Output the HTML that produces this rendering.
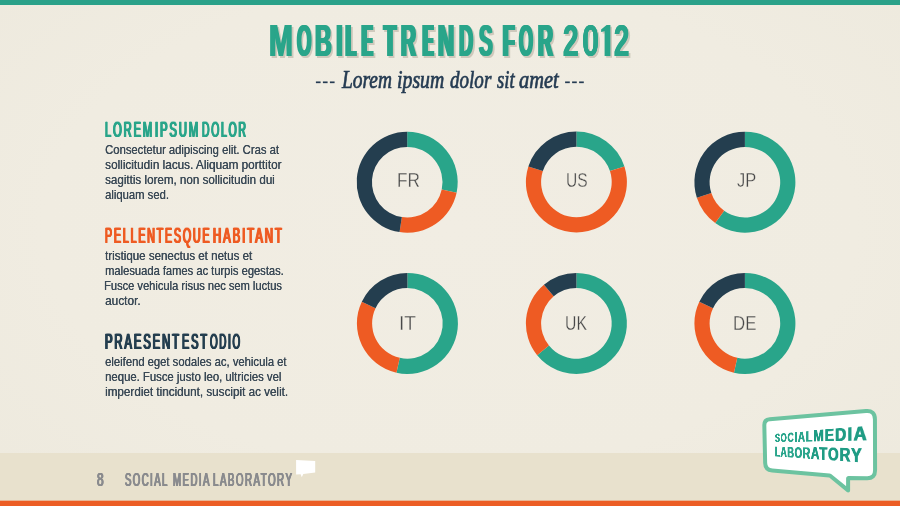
<!DOCTYPE html>
<html lang="en"><head><meta charset="utf-8"><title>Mobile Trends for 2012</title>
<style>
html,body{margin:0;padding:0}
body{width:900px;height:506px;overflow:hidden;position:relative;background:#efebdf radial-gradient(ellipse 75% 80% at 50% 45%,#f1ede3 0%,#f0ece1 60%,#ede9dd 100%);font-family:"Liberation Sans",sans-serif}
.topbar{position:absolute;left:0;top:0;width:900px;height:5px;background:#2aa189}
.band{position:absolute;left:0;top:453px;width:900px;height:48px;background:#e8e1cd}
.botbar{position:absolute;left:0;top:500px;width:900px;height:6px;background:#ec5d24;border-top:1px solid #e9b594;box-sizing:border-box}
.txt{position:absolute;left:0;top:0;width:900px;height:506px;will-change:opacity}
.t{position:absolute;white-space:nowrap;line-height:1;transform-origin:0 0;display:block;margin:0;font-weight:normal}
.title{font-weight:bold;color:#29a58a}
.sub{font-family:"Liberation Serif",serif;font-style:italic;color:#253b52;-webkit-text-stroke:0.7px #253b52}
.h1{color:#29a58a;text-shadow:1.2px 0 0 currentColor,-1.2px 0 0 currentColor,0.5px 0 0 currentColor,-0.5px 0 0 currentColor,0 -1px 0 rgba(41,165,138,0.2),1.2px -1px 0 rgba(41,165,138,0.2),-1.2px -1px 0 rgba(41,165,138,0.2)}
.h2{color:#ee5b23;text-shadow:1.2px 0 0 currentColor,-1.2px 0 0 currentColor,0.5px 0 0 currentColor,-0.5px 0 0 currentColor,0 -1px 0 rgba(238,91,35,0.2),1.2px -1px 0 rgba(238,91,35,0.2),-1.2px -1px 0 rgba(238,91,35,0.2)}
.h3{color:#243e4f;text-shadow:1.2px 0 0 currentColor,-1.2px 0 0 currentColor,0.5px 0 0 currentColor,-0.5px 0 0 currentColor,0 -1px 0 rgba(36,62,79,0.2),1.2px -1px 0 rgba(36,62,79,0.2),-1.2px -1px 0 rgba(36,62,79,0.2)}
.b{color:#3a4956;text-shadow:0.3px 0 0 currentColor}
.f{color:#8a8b8e;text-shadow:0.9px 0 0 currentColor,-0.9px 0 0 currentColor,0.4px 0 0 currentColor,-0.4px 0 0 currentColor}
svg{position:absolute;left:0;top:0}
.lg{position:absolute;left:0;top:0;white-space:nowrap;line-height:1;transform-origin:0 0;font-weight:bold;font-size:29.07px;color:#1f9c84;letter-spacing:1.5px}
.lg .s1{font-size:27.3px;color:#2aa58c;text-shadow:0.9px 0 0 currentColor,-0.9px 0 0 currentColor}
.lg .s2{text-shadow:0.75px 0 0 currentColor,-0.75px 0 0 currentColor;letter-spacing:2.2px}
#lg0 .s1{letter-spacing:2.7px}
.lbl{color:#484848;-webkit-text-stroke:0.3px #f1eee4;paint-order:fill stroke}
.dash{stroke:#253b52;stroke-width:1.7}
</style></head>
<body>
<div class="topbar"></div><div class="band"></div><div class="botbar"></div>
<main class="txt">
<div class="t title" style="left:269.02px;top:18.00px;font-size:45.1px;transform:scaleX(0.6346);text-shadow:1.28px 0 0 #29a58a,-1.28px 0 0 #29a58a,2.52px 1.6px 0 #cfc9bc,3.80px 1.6px 0 #cfc9bc,1.24px 1.6px 0 #cfc9bc">M</div>
<div class="t title" style="left:296.53px;top:18.00px;font-size:45.1px;transform:scaleX(0.4100);text-shadow:2.45px 0 0 #29a58a,-2.45px 0 0 #29a58a,3.90px 1.6px 0 #cfc9bc,6.36px 1.6px 0 #cfc9bc,1.45px 1.6px 0 #cfc9bc">O</div>
<div class="t title" style="left:315.16px;top:18.00px;font-size:45.1px;transform:scaleX(0.5109);text-shadow:1.96px 0 0 #29a58a,-1.96px 0 0 #29a58a,3.13px 1.6px 0 #cfc9bc,5.09px 1.6px 0 #cfc9bc,1.17px 1.6px 0 #cfc9bc">B</div>
<div class="t title" style="left:333.66px;top:18.00px;font-size:45.1px;transform:scaleX(0.8656);text-shadow:1.85px 1.6px 0 #cfc9bc">I</div>
<div class="t title" style="left:345.94px;top:18.00px;font-size:45.1px;transform:scaleX(0.3489);text-shadow:2.61px 0 0 #29a58a,-2.61px 0 0 #29a58a,5.22px 0 0 #29a58a,-5.22px 0 0 #29a58a,4.59px 1.6px 0 #cfc9bc,7.20px 1.6px 0 #cfc9bc,9.81px 1.6px 0 #cfc9bc,1.98px 1.6px 0 #cfc9bc,-0.63px 1.6px 0 #cfc9bc">L</div>
<div class="t title" style="left:362.05px;top:18.00px;font-size:45.1px;transform:scaleX(0.3469);text-shadow:2.63px 0 0 #29a58a,-2.63px 0 0 #29a58a,5.27px 0 0 #29a58a,-5.27px 0 0 #29a58a,4.61px 1.6px 0 #cfc9bc,7.25px 1.6px 0 #cfc9bc,9.88px 1.6px 0 #cfc9bc,1.98px 1.6px 0 #cfc9bc,-0.66px 1.6px 0 #cfc9bc">E</div>
<div class="t title" style="left:384.32px;top:18.00px;font-size:45.1px;transform:scaleX(0.4355);text-shadow:3.48px 0 0 #29a58a,-3.48px 0 0 #29a58a,3.67px 1.6px 0 #cfc9bc,7.15px 1.6px 0 #cfc9bc,0.19px 1.6px 0 #cfc9bc">T</div>
<div class="t title" style="left:401.00px;top:18.00px;font-size:45.1px;transform:scaleX(0.4578);text-shadow:2.59px 0 0 #29a58a,-2.59px 0 0 #29a58a,3.50px 1.6px 0 #cfc9bc,6.09px 1.6px 0 #cfc9bc,0.90px 1.6px 0 #cfc9bc">R</div>
<div class="t title" style="left:423.12px;top:18.00px;font-size:45.1px;transform:scaleX(0.3364);text-shadow:2.77px 0 0 #29a58a,-2.77px 0 0 #29a58a,5.54px 0 0 #29a58a,-5.54px 0 0 #29a58a,4.76px 1.6px 0 #cfc9bc,7.53px 1.6px 0 #cfc9bc,10.30px 1.6px 0 #cfc9bc,1.98px 1.6px 0 #cfc9bc,-0.79px 1.6px 0 #cfc9bc">E</div>
<div class="t title" style="left:438.03px;top:18.00px;font-size:45.1px;transform:scaleX(0.4916);text-shadow:2.68px 0 0 #29a58a,-2.68px 0 0 #29a58a,3.25px 1.6px 0 #cfc9bc,5.94px 1.6px 0 #cfc9bc,0.57px 1.6px 0 #cfc9bc">N</div>
<div class="t title" style="left:458.74px;top:18.00px;font-size:45.1px;transform:scaleX(0.4352);text-shadow:2.45px 0 0 #29a58a,-2.45px 0 0 #29a58a,3.68px 1.6px 0 #cfc9bc,6.13px 1.6px 0 #cfc9bc,1.23px 1.6px 0 #cfc9bc">D</div>
<div class="t title" style="left:478.58px;top:18.00px;font-size:45.1px;transform:scaleX(0.4541);text-shadow:2.42px 0 0 #29a58a,-2.42px 0 0 #29a58a,3.52px 1.6px 0 #cfc9bc,5.95px 1.6px 0 #cfc9bc,1.10px 1.6px 0 #cfc9bc">S</div>
<div class="t title" style="left:502.63px;top:18.00px;font-size:45.1px;transform:scaleX(0.4134);text-shadow:3.85px 0 0 #29a58a,-3.85px 0 0 #29a58a,3.87px 1.6px 0 #cfc9bc,7.73px 1.6px 0 #cfc9bc,0.02px 1.6px 0 #cfc9bc">F</div>
<div class="t title" style="left:519.39px;top:18.00px;font-size:45.1px;transform:scaleX(0.3981);text-shadow:2.63px 0 0 #29a58a,-2.63px 0 0 #29a58a,4.02px 1.6px 0 #cfc9bc,6.65px 1.6px 0 #cfc9bc,1.39px 1.6px 0 #cfc9bc">O</div>
<div class="t title" style="left:538.20px;top:18.00px;font-size:45.1px;transform:scaleX(0.4578);text-shadow:2.59px 0 0 #29a58a,-2.59px 0 0 #29a58a,3.50px 1.6px 0 #cfc9bc,6.09px 1.6px 0 #cfc9bc,0.90px 1.6px 0 #cfc9bc">R</div>
<div class="t title" style="left:562.95px;top:18.00px;font-size:45.1px;transform:scaleX(0.6192);text-shadow:0.84px 0 0 #29a58a,-0.84px 0 0 #29a58a,2.58px 1.6px 0 #cfc9bc,3.42px 1.6px 0 #cfc9bc,1.75px 1.6px 0 #cfc9bc">2</div>
<div class="t title" style="left:581.88px;top:18.00px;font-size:45.1px;transform:scaleX(0.6825);text-shadow:0.07px 0 0 #29a58a,-0.07px 0 0 #29a58a,2.34px 1.6px 0 #cfc9bc,2.41px 1.6px 0 #cfc9bc,2.28px 1.6px 0 #cfc9bc">0</div>
<div class="t title" style="left:602.89px;top:18.00px;font-size:45.1px;transform:scaleX(0.1987);opacity:0">1</div>
<div class="t title" style="left:613.61px;top:18.00px;font-size:45.1px;transform:scaleX(0.6063);text-shadow:0.93px 0 0 #29a58a,-0.93px 0 0 #29a58a,2.64px 1.6px 0 #cfc9bc,3.57px 1.6px 0 #cfc9bc,1.71px 1.6px 0 #cfc9bc">2</div>
<div class="t sub" style="left:342.14px;top:68.00px;font-size:24.5px;transform:scaleX(0.7920);">Lorem</div>
<div class="t sub" style="left:397.25px;top:68.00px;font-size:24.5px;transform:scaleX(0.8072);">ipsum</div>
<div class="t sub" style="left:450.26px;top:68.00px;font-size:24.5px;transform:scaleX(0.7782);">dolor</div>
<div class="t sub" style="left:496.55px;top:68.00px;font-size:24.5px;transform:scaleX(0.7593);">sit</div>
<div class="t sub" style="left:519.42px;top:68.00px;font-size:24.5px;transform:scaleX(0.8351);">amet</div>
<div class="t h h1" style="left:105.14px;top:120.00px;font-size:21.5px;letter-spacing:3.6px;transform:scaleX(0.5187);">LOREM</div>
<div class="t h h1" style="left:155.43px;top:120.00px;font-size:21.5px;letter-spacing:3.6px;transform:scaleX(0.5229);">IPSUM</div>
<div class="t h h1" style="left:201.76px;top:120.00px;font-size:21.5px;letter-spacing:3.6px;transform:scaleX(0.4833);">DOLOR</div>
<div class="t h h2" style="left:105.05px;top:226.00px;font-size:21.5px;letter-spacing:3.6px;transform:scaleX(0.4968);">PELLENTESQUE</div>
<div class="t h h2" style="left:213.03px;top:226.00px;font-size:21.5px;letter-spacing:3.6px;transform:scaleX(0.5300);">HABITANT</div>
<div class="t h h3" style="left:104.94px;top:332.00px;font-size:21.5px;letter-spacing:3.6px;transform:scaleX(0.5249);">PRAESENT</div>
<div class="t h h3" style="left:181.85px;top:332.00px;font-size:21.5px;letter-spacing:3.6px;transform:scaleX(0.5093);">EST</div>
<div class="t h h3" style="left:210.29px;top:332.00px;font-size:21.5px;letter-spacing:3.6px;transform:scaleX(0.4582);">ODIO</div>
<div class="t b" style="left:104.74px;top:144.00px;font-size:12.1px;transform:scaleX(0.9302);">Consectetur adipiscing elit. Cras at</div>
<div class="t b" style="left:105.01px;top:159.00px;font-size:12.1px;transform:scaleX(0.9718);">sollicitudin lacus. Aliquam porttitor</div>
<div class="t b" style="left:105.01px;top:174.00px;font-size:12.1px;transform:scaleX(0.9597);">sagittis lorem, non sollicitudin dui</div>
<div class="t b" style="left:104.83px;top:189.00px;font-size:12.1px;transform:scaleX(0.9307);">aliquam sed.</div>
<div class="t b" style="left:105.20px;top:250.00px;font-size:12.1px;transform:scaleX(0.9554);">tristique senectus et netus et</div>
<div class="t b" style="left:104.56px;top:265.00px;font-size:12.1px;transform:scaleX(0.9227);">malesuada fames ac turpis egestas.</div>
<div class="t b" style="left:104.47px;top:280.00px;font-size:12.1px;transform:scaleX(0.9188);">Fusce vehicula risus nec sem luctus</div>
<div class="t b" style="left:104.81px;top:295.00px;font-size:12.1px;transform:scaleX(0.9781);">auctor.</div>
<div class="t b" style="left:104.83px;top:356.00px;font-size:12.1px;transform:scaleX(0.9305);">eleifend eget sodales ac, vehicula et</div>
<div class="t b" style="left:104.55px;top:371.00px;font-size:12.1px;transform:scaleX(0.9366);">neque. Fusce justo leo, ultricies vel</div>
<div class="t b" style="left:104.53px;top:386.00px;font-size:12.1px;transform:scaleX(0.9655);">imperdiet tincidunt, suscipit ac velit.</div>
<div class="t lbl" style="left:397.21px;top:171.30px;font-size:19.3px;transform:scaleX(0.8957);">FR</div>
<div class="t lbl" style="left:566.02px;top:171.30px;font-size:19.3px;transform:scaleX(0.8090);">US</div>
<div class="t lbl" style="left:736.59px;top:171.30px;font-size:19.3px;transform:scaleX(0.8541);">JP</div>
<div class="t lbl" style="left:398.96px;top:314.00px;font-size:19.3px;transform:scaleX(0.9926);">IT</div>
<div class="t lbl" style="left:564.50px;top:314.00px;font-size:19.3px;transform:scaleX(0.8182);">UK</div>
<div class="t lbl" style="left:733.24px;top:314.00px;font-size:19.3px;transform:scaleX(0.8742);">DE</div>
<div class="t f" style="left:97.06px;top:471.00px;font-size:18.6px;letter-spacing:2.8px;transform:scaleX(0.6415);">8</div>
<div class="t f" style="left:125.45px;top:471.00px;font-size:18.6px;letter-spacing:2.8px;transform:scaleX(0.5152);">SOCIAL</div>
<div class="t f" style="left:172.69px;top:471.00px;font-size:18.6px;letter-spacing:2.8px;transform:scaleX(0.5199);">MEDIA</div>
<div class="t f" style="left:212.58px;top:471.00px;font-size:18.6px;letter-spacing:2.8px;transform:scaleX(0.5254);">LABORATORY</div>
</main>
<svg width="900" height="506" viewBox="0 0 900 506">
<g>
<path d="M407.20 131.70A50.5 50.5 0 0 1 456.60 192.70L441.73 189.54A35.3 35.3 0 0 0 407.20 146.90Z" fill="#29a58a"/>
<path d="M456.60 192.70A50.5 50.5 0 0 1 399.56 232.12L401.86 217.09A35.3 35.3 0 0 0 441.73 189.54Z" fill="#ee5b23"/>
<path d="M399.56 232.12A50.5 50.5 0 0 1 407.20 131.70L407.20 146.90A35.3 35.3 0 0 0 401.86 217.09Z" fill="#243e4f"/>
</g>
<g>
<path d="M576.40 131.50A50.5 50.5 0 0 1 624.43 166.39L609.97 171.09A35.3 35.3 0 0 0 576.40 146.70Z" fill="#29a58a"/>
<path d="M624.43 166.39A50.5 50.5 0 1 1 528.37 166.39L542.83 171.09A35.3 35.3 0 1 0 609.97 171.09Z" fill="#ee5b23"/>
<path d="M528.37 166.39A50.5 50.5 0 0 1 576.40 131.50L576.40 146.70A35.3 35.3 0 0 0 542.83 171.09Z" fill="#243e4f"/>
</g>
<g>
<path d="M744.90 131.70A50.5 50.5 0 1 1 715.22 223.06L724.15 210.76A35.3 35.3 0 1 0 744.90 146.90Z" fill="#29a58a"/>
<path d="M715.22 223.06A50.5 50.5 0 0 1 696.87 197.81L711.33 193.11A35.3 35.3 0 0 0 724.15 210.76Z" fill="#ee5b23"/>
<path d="M696.87 197.81A50.5 50.5 0 0 1 744.90 131.70L744.90 146.90A35.3 35.3 0 0 0 711.33 193.11Z" fill="#243e4f"/>
</g>
<g>
<path d="M407.40 272.90A50.5 50.5 0 1 1 396.47 372.70L399.76 357.86A35.3 35.3 0 1 0 407.40 288.10Z" fill="#29a58a"/>
<path d="M396.47 372.70A50.5 50.5 0 0 1 361.82 301.66L375.54 308.20A35.3 35.3 0 0 0 399.76 357.86Z" fill="#ee5b23"/>
<path d="M361.82 301.66A50.5 50.5 0 0 1 407.40 272.90L407.40 288.10A35.3 35.3 0 0 0 375.54 308.20Z" fill="#243e4f"/>
</g>
<g>
<path d="M576.40 272.90A50.5 50.5 0 1 1 537.15 355.18L548.97 345.62A35.3 35.3 0 1 0 576.40 288.10Z" fill="#29a58a"/>
<path d="M537.15 355.18A50.5 50.5 0 0 1 543.94 284.71L553.71 296.36A35.3 35.3 0 0 0 548.97 345.62Z" fill="#ee5b23"/>
<path d="M543.94 284.71A50.5 50.5 0 0 1 576.40 272.90L576.40 288.10A35.3 35.3 0 0 0 553.71 296.36Z" fill="#243e4f"/>
</g>
<g>
<path d="M744.90 272.90A50.5 50.5 0 1 1 733.97 372.70L737.26 357.86A35.3 35.3 0 1 0 744.90 288.10Z" fill="#29a58a"/>
<path d="M733.97 372.70A50.5 50.5 0 0 1 699.32 301.66L713.04 308.20A35.3 35.3 0 0 0 737.26 357.86Z" fill="#ee5b23"/>
<path d="M699.32 301.66A50.5 50.5 0 0 1 744.90 272.90L744.90 288.10A35.3 35.3 0 0 0 713.04 308.20Z" fill="#243e4f"/>
</g>
<path d="M601.1 29.4L606.6 25.05L610.4 25.05L610.4 56.1L604.6 56.1L604.6 31.3L601.1 32.1Z" fill="#cfc9bc" transform="translate(1.6 1.6)"/><path d="M601.1 29.4L606.6 25.05L610.4 25.05L610.4 56.1L604.6 56.1L604.6 31.3L601.1 32.1Z" fill="#29a58a"/>
<line class="dash" x1="315.9" y1="82.3" x2="320.6" y2="82.3"/>
<line class="dash" x1="322.9" y1="82.3" x2="327.6" y2="82.3"/>
<line class="dash" x1="329.9" y1="82.3" x2="334.6" y2="82.3"/>
<line class="dash" x1="565.1" y1="82.3" x2="569.8" y2="82.3"/>
<line class="dash" x1="572.1" y1="82.3" x2="576.8" y2="82.3"/>
<line class="dash" x1="579.1" y1="82.3" x2="583.8" y2="82.3"/>
<path d="M296.1 459.9L315.2 461.1L315.2 472.6L303.3 474L301.8 477.3L300.6 474.3L296.1 474.6Z" fill="#fff"/>
<path d="M764.32 425.30Q764.20 419.80 769.68 419.33L865.93 411.07Q874.90 410.30 874.93 419.30L875.08 470.30Q875.10 478.30 867.10 478.21L848.60 478.01Q848.10 478.00 848.10 478.50L848.10 490.40L830.19 475.82Q829.80 475.50 829.30 475.46L772.27 470.59Q765.30 470.00 765.15 463.00Z" fill="#fff" stroke="#6cc3a0" stroke-width="4" stroke-linejoin="round"/>
</svg>
<div class="lg" id="lg0" style="transform:matrix3d(-1.081395,-0.767915,0,-0.00172468,-0.000000,0.444079,0,-0.00000000,0,0,1,0,775.0929,431.5813,0,1)"><span class="s1">SOCIAL</span><span class="s2">MEDIA</span></div>
<div class="lg" id="lg1" style="transform:matrix3d(-0.730472,-0.583009,0,-0.00132358,-0.000000,0.514182,0,-0.00000000,0,0,1,0,775.0450,444.0254,0,1)"><span class="s1">LABOR</span><span class="s2">ATORY</span></div>
</body></html>
